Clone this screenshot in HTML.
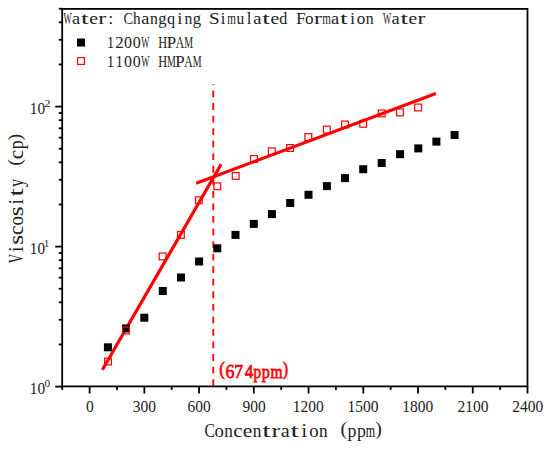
<!DOCTYPE html>
<html><head><meta charset="utf-8">
<style>
html,body{margin:0;padding:0;background:#fff;}
svg{display:block;}
</style></head><body>
<svg width="550" height="451" viewBox="0 0 550 451">
<rect x="62.2" y="8.9" width="465.3" height="377.5" fill="none" stroke="#000" stroke-width="1.8"/>
<line x1="62.23" y1="386.4" x2="62.23" y2="389.90" stroke="#000" stroke-width="1.8"/>
<line x1="89.60" y1="386.4" x2="89.60" y2="393.50" stroke="#000" stroke-width="1.8"/>
<text transform="translate(85.93,411.60) scale(0.9300,1)" font-family='"Liberation Serif",serif' font-size="16.66" font-weight="normal" fill="#222">0</text>
<line x1="116.97" y1="386.4" x2="116.97" y2="389.90" stroke="#000" stroke-width="1.8"/>
<line x1="144.34" y1="386.4" x2="144.34" y2="393.50" stroke="#000" stroke-width="1.8"/>
<text transform="translate(132.84,411.60) scale(0.9300,1)" font-family='"Liberation Serif",serif' font-size="16.66" font-weight="normal" fill="#222">300</text>
<line x1="171.71" y1="386.4" x2="171.71" y2="389.90" stroke="#000" stroke-width="1.8"/>
<line x1="199.07" y1="386.4" x2="199.07" y2="393.50" stroke="#000" stroke-width="1.8"/>
<text transform="translate(187.61,411.60) scale(0.9300,1)" font-family='"Liberation Serif",serif' font-size="16.66" font-weight="normal" fill="#222">600</text>
<line x1="226.44" y1="386.4" x2="226.44" y2="389.90" stroke="#000" stroke-width="1.8"/>
<line x1="253.81" y1="386.4" x2="253.81" y2="393.50" stroke="#000" stroke-width="1.8"/>
<text transform="translate(242.44,411.60) scale(0.9300,1)" font-family='"Liberation Serif",serif' font-size="16.66" font-weight="normal" fill="#222">900</text>
<line x1="281.18" y1="386.4" x2="281.18" y2="389.90" stroke="#000" stroke-width="1.8"/>
<line x1="308.55" y1="386.4" x2="308.55" y2="393.50" stroke="#000" stroke-width="1.8"/>
<text transform="translate(292.87,411.60) scale(0.9300,1)" font-family='"Liberation Serif",serif' font-size="16.66" font-weight="normal" fill="#222">1200</text>
<line x1="335.92" y1="386.4" x2="335.92" y2="389.90" stroke="#000" stroke-width="1.8"/>
<line x1="363.29" y1="386.4" x2="363.29" y2="393.50" stroke="#000" stroke-width="1.8"/>
<text transform="translate(347.61,411.60) scale(0.9300,1)" font-family='"Liberation Serif",serif' font-size="16.66" font-weight="normal" fill="#222">1500</text>
<line x1="390.66" y1="386.4" x2="390.66" y2="389.90" stroke="#000" stroke-width="1.8"/>
<line x1="418.02" y1="386.4" x2="418.02" y2="393.50" stroke="#000" stroke-width="1.8"/>
<text transform="translate(402.34,411.60) scale(0.9300,1)" font-family='"Liberation Serif",serif' font-size="16.66" font-weight="normal" fill="#222">1800</text>
<line x1="445.39" y1="386.4" x2="445.39" y2="389.90" stroke="#000" stroke-width="1.8"/>
<line x1="472.76" y1="386.4" x2="472.76" y2="393.50" stroke="#000" stroke-width="1.8"/>
<text transform="translate(457.42,411.60) scale(0.9300,1)" font-family='"Liberation Serif",serif' font-size="16.66" font-weight="normal" fill="#222">2100</text>
<line x1="500.13" y1="386.4" x2="500.13" y2="389.90" stroke="#000" stroke-width="1.8"/>
<line x1="527.50" y1="386.4" x2="527.50" y2="393.50" stroke="#000" stroke-width="1.8"/>
<text transform="translate(512.16,411.60) scale(0.9300,1)" font-family='"Liberation Serif",serif' font-size="16.66" font-weight="normal" fill="#222">2400</text>
<line x1="62.2" y1="386.60" x2="55.20" y2="386.60" stroke="#000" stroke-width="1.8"/>
<line x1="62.2" y1="344.46" x2="58.80" y2="344.46" stroke="#000" stroke-width="1.8"/>
<line x1="62.2" y1="319.80" x2="58.80" y2="319.80" stroke="#000" stroke-width="1.8"/>
<line x1="62.2" y1="302.31" x2="58.80" y2="302.31" stroke="#000" stroke-width="1.8"/>
<line x1="62.2" y1="288.74" x2="58.80" y2="288.74" stroke="#000" stroke-width="1.8"/>
<line x1="62.2" y1="277.66" x2="58.80" y2="277.66" stroke="#000" stroke-width="1.8"/>
<line x1="62.2" y1="268.29" x2="58.80" y2="268.29" stroke="#000" stroke-width="1.8"/>
<line x1="62.2" y1="260.17" x2="58.80" y2="260.17" stroke="#000" stroke-width="1.8"/>
<line x1="62.2" y1="253.01" x2="58.80" y2="253.01" stroke="#000" stroke-width="1.8"/>
<text transform="translate(29.86,393.60) scale(0.9132,1)" font-family='"Liberation Serif",serif' font-size="16.66" font-weight="normal" fill="#222">10</text>
<text transform="translate(44.57,387.20) scale(1.1328,1)" font-family='"Liberation Serif",serif' font-size="10.00" font-weight="normal" fill="#222">0</text>
<line x1="62.2" y1="246.60" x2="55.20" y2="246.60" stroke="#000" stroke-width="1.8"/>
<line x1="62.2" y1="204.46" x2="58.80" y2="204.46" stroke="#000" stroke-width="1.8"/>
<line x1="62.2" y1="179.80" x2="58.80" y2="179.80" stroke="#000" stroke-width="1.8"/>
<line x1="62.2" y1="162.31" x2="58.80" y2="162.31" stroke="#000" stroke-width="1.8"/>
<line x1="62.2" y1="148.74" x2="58.80" y2="148.74" stroke="#000" stroke-width="1.8"/>
<line x1="62.2" y1="137.66" x2="58.80" y2="137.66" stroke="#000" stroke-width="1.8"/>
<line x1="62.2" y1="128.29" x2="58.80" y2="128.29" stroke="#000" stroke-width="1.8"/>
<line x1="62.2" y1="120.17" x2="58.80" y2="120.17" stroke="#000" stroke-width="1.8"/>
<line x1="62.2" y1="113.01" x2="58.80" y2="113.01" stroke="#000" stroke-width="1.8"/>
<text transform="translate(29.86,253.60) scale(0.9132,1)" font-family='"Liberation Serif",serif' font-size="16.66" font-weight="normal" fill="#222">10</text>
<text transform="translate(44.10,247.20) scale(1.0228,1)" font-family='"Liberation Serif",serif' font-size="10.00" font-weight="normal" fill="#222">1</text>
<line x1="62.2" y1="106.60" x2="55.20" y2="106.60" stroke="#000" stroke-width="1.8"/>
<line x1="62.2" y1="64.46" x2="58.80" y2="64.46" stroke="#000" stroke-width="1.8"/>
<line x1="62.2" y1="39.80" x2="58.80" y2="39.80" stroke="#000" stroke-width="1.8"/>
<line x1="62.2" y1="22.31" x2="58.80" y2="22.31" stroke="#000" stroke-width="1.8"/>
<line x1="62.2" y1="8.74" x2="58.80" y2="8.74" stroke="#000" stroke-width="1.8"/>
<text transform="translate(29.86,113.60) scale(0.9132,1)" font-family='"Liberation Serif",serif' font-size="16.66" font-weight="normal" fill="#222">10</text>
<text transform="translate(44.47,107.20) scale(1.1977,1)" font-family='"Liberation Serif",serif' font-size="10.00" font-weight="normal" fill="#222">2</text>
<line x1="213.3" y1="84" x2="213.3" y2="386.4" stroke="#f00" stroke-width="1.8" stroke-dasharray="6.8 5.75" stroke-dashoffset="6.0" />
<line x1="102.4" y1="369.8" x2="221.1" y2="164.3" stroke="#f00" stroke-width="3.2"/>
<line x1="196.2" y1="183.3" x2="435.8" y2="93.6" stroke="#f00" stroke-width="3.2"/>
<rect x="103.90" y="343.30" width="8.0" height="8.0" fill="#000"/>
<rect x="122.00" y="324.40" width="8.0" height="8.0" fill="#000"/>
<rect x="140.30" y="313.70" width="8.0" height="8.0" fill="#000"/>
<rect x="158.80" y="287.00" width="8.0" height="8.0" fill="#000"/>
<rect x="177.00" y="273.50" width="8.0" height="8.0" fill="#000"/>
<rect x="195.10" y="257.50" width="8.0" height="8.0" fill="#000"/>
<rect x="213.30" y="244.30" width="8.0" height="8.0" fill="#000"/>
<rect x="231.50" y="230.90" width="8.0" height="8.0" fill="#000"/>
<rect x="249.80" y="219.90" width="8.0" height="8.0" fill="#000"/>
<rect x="267.90" y="210.10" width="8.0" height="8.0" fill="#000"/>
<rect x="286.20" y="199.00" width="8.0" height="8.0" fill="#000"/>
<rect x="304.50" y="190.80" width="8.0" height="8.0" fill="#000"/>
<rect x="322.90" y="182.10" width="8.0" height="8.0" fill="#000"/>
<rect x="341.00" y="174.10" width="8.0" height="8.0" fill="#000"/>
<rect x="359.20" y="165.20" width="8.0" height="8.0" fill="#000"/>
<rect x="377.70" y="159.00" width="8.0" height="8.0" fill="#000"/>
<rect x="396.10" y="150.20" width="8.0" height="8.0" fill="#000"/>
<rect x="414.30" y="144.40" width="8.0" height="8.0" fill="#000"/>
<rect x="432.40" y="137.60" width="8.0" height="8.0" fill="#000"/>
<rect x="450.60" y="131.00" width="8.0" height="8.0" fill="#000"/>
<rect x="104.60" y="358.10" width="6.80" height="6.80" fill="none" stroke="#f00" stroke-width="1.2"/>
<rect x="122.60" y="327.10" width="6.80" height="6.80" fill="none" stroke="#f00" stroke-width="1.2"/>
<rect x="159.20" y="253.00" width="6.80" height="6.80" fill="none" stroke="#f00" stroke-width="1.2"/>
<rect x="177.50" y="231.50" width="6.80" height="6.80" fill="none" stroke="#f00" stroke-width="1.2"/>
<rect x="195.40" y="196.90" width="6.80" height="6.80" fill="none" stroke="#f00" stroke-width="1.2"/>
<rect x="213.90" y="182.90" width="6.80" height="6.80" fill="none" stroke="#f00" stroke-width="1.2"/>
<rect x="232.30" y="172.50" width="6.80" height="6.80" fill="none" stroke="#f00" stroke-width="1.2"/>
<rect x="250.60" y="155.60" width="6.80" height="6.80" fill="none" stroke="#f00" stroke-width="1.2"/>
<rect x="268.40" y="147.90" width="6.80" height="6.80" fill="none" stroke="#f00" stroke-width="1.2"/>
<rect x="286.70" y="144.60" width="6.80" height="6.80" fill="none" stroke="#f00" stroke-width="1.2"/>
<rect x="304.90" y="133.70" width="6.80" height="6.80" fill="none" stroke="#f00" stroke-width="1.2"/>
<rect x="323.40" y="126.20" width="6.80" height="6.80" fill="none" stroke="#f00" stroke-width="1.2"/>
<rect x="341.60" y="121.10" width="6.80" height="6.80" fill="none" stroke="#f00" stroke-width="1.2"/>
<rect x="359.80" y="120.40" width="6.80" height="6.80" fill="none" stroke="#f00" stroke-width="1.2"/>
<rect x="378.30" y="110.00" width="6.80" height="6.80" fill="none" stroke="#f00" stroke-width="1.2"/>
<rect x="396.60" y="109.00" width="6.80" height="6.80" fill="none" stroke="#f00" stroke-width="1.2"/>
<rect x="414.70" y="104.10" width="6.80" height="6.80" fill="none" stroke="#f00" stroke-width="1.2"/>
<rect x="77" y="38.5" width="8" height="8" fill="#000"/>
<rect x="77.6" y="57.6" width="6.8" height="6.8" fill="none" stroke="#f00" stroke-width="1.2"/>
<g font-family='"Liberation Serif",serif' font-size="16.65" fill="#222"><text transform="translate(67.72,24.40) scale(0.5234,1.000)" x="-7.85">W</text><text transform="translate(76.34,24.40) scale(1.1024,1.000)" x="-3.87">a</text><text transform="translate(84.97,24.40) scale(1.6608,1.000)" x="-2.35">t</text><text transform="translate(93.61,24.40) scale(1.1766,1.000)" x="-3.73">e</text><text transform="translate(102.23,24.40) scale(1.4315,1.000)" x="-2.87">r</text><text transform="translate(110.87,24.40) scale(1.0000,1.000)" x="-2.30">:</text><text transform="translate(128.12,24.40) scale(0.8628,1.000)" x="-5.43">C</text><text transform="translate(136.75,24.40) scale(0.9128,1.000)" x="-4.13">h</text><text transform="translate(145.39,24.40) scale(1.1024,1.000)" x="-3.87">a</text><text transform="translate(154.02,24.40) scale(0.9428,1.000)" x="-4.23">n</text><text transform="translate(162.65,24.40) scale(0.9943,1.000)" x="-4.36">g</text><text transform="translate(171.28,24.40) scale(0.9768,1.000)" x="-4.31">q</text><text transform="translate(179.91,24.40) scale(1.0000,1.000)" x="-2.33">i</text><text transform="translate(188.53,24.40) scale(0.9428,1.000)" x="-4.23">n</text><text transform="translate(197.17,24.40) scale(0.9943,1.000)" x="-4.36">g</text><text transform="translate(214.43,24.40) scale(1.1527,1.000)" x="-4.67">S</text><text transform="translate(223.06,24.40) scale(1.0000,1.000)" x="-2.33">i</text><text transform="translate(231.69,24.40) scale(0.6645,1.000)" x="-6.52">m</text><text transform="translate(240.32,24.40) scale(0.9271,1.000)" x="-4.13">u</text><text transform="translate(248.95,24.40) scale(1.0000,1.000)" x="-2.31">l</text><text transform="translate(257.57,24.40) scale(1.1024,1.000)" x="-3.87">a</text><text transform="translate(266.20,24.40) scale(1.6608,1.000)" x="-2.35">t</text><text transform="translate(274.84,24.40) scale(1.1766,1.000)" x="-3.73">e</text><text transform="translate(283.47,24.40) scale(0.9642,1.000)" x="-4.36">d</text><text transform="translate(300.73,24.40) scale(1.0026,1.000)" x="-4.57">F</text><text transform="translate(309.36,24.40) scale(1.0275,1.000)" x="-4.16">o</text><text transform="translate(317.99,24.40) scale(1.4315,1.000)" x="-2.87">r</text><text transform="translate(326.62,24.40) scale(0.6645,1.000)" x="-6.52">m</text><text transform="translate(335.25,24.40) scale(1.1024,1.000)" x="-3.87">a</text><text transform="translate(343.88,24.40) scale(1.6608,1.000)" x="-2.35">t</text><text transform="translate(352.50,24.40) scale(1.0000,1.000)" x="-2.33">i</text><text transform="translate(361.13,24.40) scale(1.0275,1.000)" x="-4.16">o</text><text transform="translate(369.76,24.40) scale(0.9428,1.000)" x="-4.23">n</text><text transform="translate(387.03,24.40) scale(0.5234,1.000)" x="-7.85">W</text><text transform="translate(395.66,24.40) scale(1.1024,1.000)" x="-3.87">a</text><text transform="translate(404.29,24.40) scale(1.6608,1.000)" x="-2.35">t</text><text transform="translate(412.92,24.40) scale(1.1766,1.000)" x="-3.73">e</text><text transform="translate(421.55,24.40) scale(1.4315,1.000)" x="-2.87">r</text></g>
<g font-family='"Liberation Serif",serif' font-size="16.65" fill="#222"><text transform="translate(110.73,48.30) scale(0.8561,1.060)" x="-4.39">1</text><text transform="translate(119.38,48.30) scale(1.0110,1.060)" x="-4.07">2</text><text transform="translate(128.03,48.30) scale(0.9563,1.060)" x="-4.16">0</text><text transform="translate(136.68,48.30) scale(0.9563,1.060)" x="-4.16">0</text><text transform="translate(145.33,48.30) scale(0.5246,1.000)" x="-7.85">W</text><text transform="translate(162.62,48.30) scale(0.7434,1.000)" x="-6.01">H</text><text transform="translate(171.28,48.30) scale(1.0130,1.000)" x="-4.54">P</text><text transform="translate(179.93,48.30) scale(0.7001,1.000)" x="-6.03">A</text><text transform="translate(188.57,48.30) scale(0.5940,1.000)" x="-7.40">M</text></g>
<g font-family='"Liberation Serif",serif' font-size="16.65" fill="#222"><text transform="translate(110.73,66.60) scale(0.8561,1.060)" x="-4.39">1</text><text transform="translate(119.38,66.60) scale(0.8561,1.060)" x="-4.39">1</text><text transform="translate(128.03,66.60) scale(0.9563,1.060)" x="-4.16">0</text><text transform="translate(136.68,66.60) scale(0.9563,1.060)" x="-4.16">0</text><text transform="translate(145.33,66.60) scale(0.5246,1.000)" x="-7.85">W</text><text transform="translate(162.62,66.60) scale(0.7434,1.000)" x="-6.01">H</text><text transform="translate(171.28,66.60) scale(0.5940,1.000)" x="-7.40">M</text><text transform="translate(179.93,66.60) scale(1.0130,1.000)" x="-4.54">P</text><text transform="translate(188.57,66.60) scale(0.7001,1.000)" x="-6.03">A</text><text transform="translate(197.23,66.60) scale(0.5940,1.000)" x="-7.40">M</text></g>
<g font-family='"Liberation Serif",serif' font-size="19.85" fill="#222"><text transform="translate(209.64,437.40) scale(0.7939,1.000)" x="-6.48">C</text><text transform="translate(219.11,437.40) scale(0.9454,1.000)" x="-4.96">o</text><text transform="translate(228.58,437.40) scale(0.8674,1.000)" x="-5.04">n</text><text transform="translate(238.05,437.40) scale(1.0684,1.000)" x="-4.48">c</text><text transform="translate(247.52,437.40) scale(1.0825,1.000)" x="-4.45">e</text><text transform="translate(256.99,437.40) scale(0.8674,1.000)" x="-5.04">n</text><text transform="translate(266.46,437.40) scale(1.5281,1.000)" x="-2.80">t</text><text transform="translate(275.93,437.40) scale(1.3171,1.000)" x="-3.42">r</text><text transform="translate(285.39,437.40) scale(1.0143,1.000)" x="-4.62">a</text><text transform="translate(294.87,437.40) scale(1.5281,1.000)" x="-2.80">t</text><text transform="translate(304.34,437.40) scale(1.0000,1.000)" x="-2.78">i</text><text transform="translate(313.81,437.40) scale(0.9454,1.000)" x="-4.96">o</text><text transform="translate(323.28,437.40) scale(0.8674,1.000)" x="-5.04">n</text><text transform="translate(343.92,435.32) scale(1.0000,0.970)" x="-3.42">(</text><text transform="translate(351.69,437.40) scale(0.9007,1.000)" x="-4.74">p</text><text transform="translate(361.16,437.40) scale(0.9007,1.000)" x="-4.74">p</text><text transform="translate(370.62,437.40) scale(0.6113,1.000)" x="-7.77">m</text><text transform="translate(378.39,435.32) scale(1.0000,0.970)" x="-3.19">)</text></g>
<g font-family='"Liberation Serif",serif' font-size="20.16" fill="#222" transform="translate(23.3,263.3) rotate(-90)"><text transform="translate(4.73,0.00) scale(0.6371,1.000)" x="-7.28">V</text><text transform="translate(14.19,0.00) scale(1.0000,1.000)" x="-2.82">i</text><text transform="translate(23.65,0.00) scale(1.2634,1.000)" x="-3.97">s</text><text transform="translate(33.11,0.00) scale(1.0511,1.000)" x="-4.55">c</text><text transform="translate(42.57,0.00) scale(0.9300,1.000)" x="-5.04">o</text><text transform="translate(52.03,0.00) scale(1.2634,1.000)" x="-3.97">s</text><text transform="translate(61.49,0.00) scale(1.0000,1.000)" x="-2.82">i</text><text transform="translate(70.95,0.00) scale(1.5033,1.000)" x="-2.84">t</text><text transform="translate(80.41,0.00) scale(0.8146,1.000)" x="-5.12">y</text><text transform="translate(101.03,-2.11) scale(1.0000,0.970)" x="-3.47">(</text><text transform="translate(108.79,0.00) scale(1.0511,1.000)" x="-4.55">c</text><text transform="translate(118.25,0.00) scale(0.8861,1.000)" x="-4.81">p</text><text transform="translate(126.01,-2.11) scale(1.0000,0.970)" x="-3.24">)</text></g>
<g font-family='"Liberation Serif",serif' font-size="19.69" fill="#f00" stroke="#f00" stroke-width="0.75"><text transform="translate(219.36,375.20) scale(0.8502,0.92)">(</text><text transform="translate(225.54,377.80) scale(0.9033,1.0)">6</text><text transform="translate(234.23,377.80) scale(0.9022,1.0)">7</text><text transform="translate(244.66,377.80) scale(0.8739,1.0)">4</text><text transform="translate(253.45,377.80) scale(0.7763,1.0)">p</text><text transform="translate(261.74,377.80) scale(0.8220,1.0)">p</text><text transform="translate(270.47,377.80) scale(0.7879,1.0)">m</text><text transform="translate(283.01,375.20) scale(0.7711,0.92)">)</text></g>
</svg>
</body></html>
